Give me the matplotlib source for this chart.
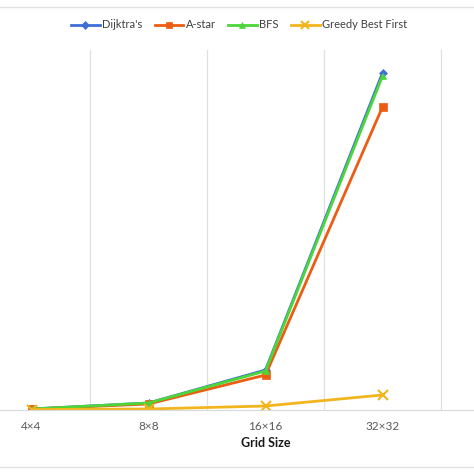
import matplotlib
matplotlib.use("Agg")
import matplotlib.pyplot as plt
from matplotlib.lines import Line2D

plt.rcParams['font.family'] = ['Lato', 'DejaVu Sans']

# data (arbitrary units, no y scale shown in the reference)
grid_sizes = ["4×4", "8×8", "16×16", "32×32"]
dijkstra = [1, 7, 40, 337]
astar = [1, 6, 35, 303]
bfs = [1, 7, 39, 334]
greedy = [0.5, 1, 4, 15]

series = [
    ("Dijktra's", dijkstra, '#3f6fd6', 'D', 4),
    ("A-star", astar, '#ec5d13', 's', 5.5),
    ("BFS", bfs, '#4cd63a', '^', 5),
    ("Greedy Best First", greedy, '#f2b51d', 'x', 7),
]

W = 474
fig = plt.figure(figsize=(4.74, 4.74), dpi=100)
# plot area cropped on the left, as in the reference
ax = fig.add_axes([-27 / W, 64 / W, (W + 27) / W, 360 / W])

x = list(range(len(grid_sizes)))
for name, vals, col, mk, ms in series:
    ax.plot(x, vals, color=col, lw=2, marker=mk, ms=ms, mew=1.5 if mk == 'x' else 0.5,
            mec=col, mfc=col, label=name)

ax.set_xlim(-0.5, 3.5 + 33 / 117)
ax.set_ylim(0, 360)
ax.set_xticks(x)
ax.set_xticklabels(grid_sizes, fontsize=8.5, color='#595959')
ax.tick_params(axis='x', length=0, pad=8)
ax.set_yticks([])
for gx in [0.5, 1.5, 2.5, 3.5]:
    ax.axvline(gx, color='#e0e0e0', lw=0.9, zorder=0)
for side in ['top', 'left', 'right']:
    ax.spines[side].set_visible(False)
ax.spines['bottom'].set_color('#d9d9d9')

fig.text(266 / W, 1 - 443 / W, "Grid Size", ha='center', va='center',
         fontsize=9, fontweight='bold', color='#1a1a1a')

handles = [Line2D([0], [0], color=c, lw=2, marker=m, ms=s * 0.9, mec=c, mfc=c,
                  mew=1.5 if m == 'x' else 0.5) for _, _, c, m, s in series]
fig.legend(handles, [s[0] for s in series], loc='center', ncol=4, frameon=False,
           bbox_to_anchor=(239 / W, 1 - 25 / W), fontsize=8, handlelength=2.6,
           handletextpad=0.2, columnspacing=1.1, labelcolor='#404040')

# outer chart borders visible in the crop
fig.add_artist(Line2D([0, 1], [1 - 7 / W, 1 - 7 / W], color='#e3e3e3', lw=1))
fig.add_artist(Line2D([0, 1], [1 - 467 / W, 1 - 467 / W], color='#e3e3e3', lw=1))

fig.savefig("out.png", dpi=100)
